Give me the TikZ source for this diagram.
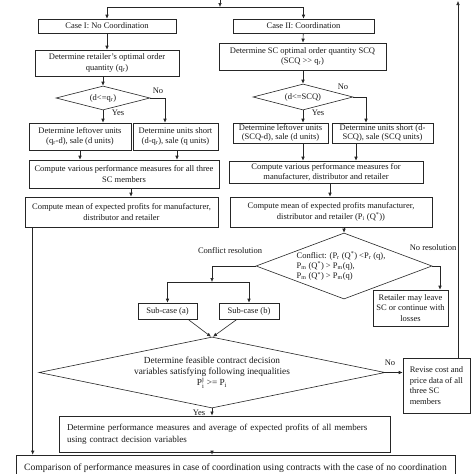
\documentclass[tikz,border=0pt]{standalone}
\usepackage{fontspec}
\setmainfont{Liberation Serif}
\usetikzlibrary{shapes.geometric,arrows.meta,calc}
\newcommand\fs{\fontsize{8.5}{10.4}\selectfont}
\newcommand\fst{\fontsize{8.5}{9.6}\selectfont}
\newcommand\fsd{\fontsize{9.3}{11}\selectfont}
\newcommand\fsp{\fontsize{9}{12}\selectfont}
\newcommand\fsc{\fontsize{9.6}{11}\selectfont}
\newcommand\sub[1]{\textsubscript{#1}}
\newcommand\sups[1]{\textsuperscript{#1}}
\begin{document}
\begin{tikzpicture}[x=1pt,y=-1pt,
  box/.style={draw=black!85, line width=0.6pt, inner sep=1pt, align=center, font=\fs, text=black!90},
  dia/.style={draw=black!85, line width=0.6pt, diamond, inner sep=0pt},
  txt/.style={font=\fs, text=black!90, inner sep=0pt},
  arr/.style={-{Latex[length=4pt,width=3.6pt]}, line width=0.6pt, draw=black!85},
  ln/.style={line width=0.6pt, draw=black!85}]
\useasboundingbox (0,0) rectangle (474,474);
\clip (0,0) rectangle (474,474);
\fill[white] (0,0) rectangle (474,474);

% top
\coordinate (topin) at (220,0);
\coordinate (split) at (220,7);
\coordinate (back) at (458,1);

\node[box, minimum width=138pt, minimum height=14pt] (case1) at (107,26) {Case I: No Coordination};
\node[box, minimum width=141pt, minimum height=14pt] (case2) at (303.5,26) {Case II: Coordination};
\node[box, minimum width=144pt, minimum height=26pt] (ret1) at (107,63) {Determine retailer's optimal order\\quantity (q\sub{r})};
\node[box, minimum width=167pt, minimum height=27pt] (sc2) at (302.5,56.5) {Determine SC optimal order quantity SCQ\\(SCQ >{}> q\sub{r})};

\node[dia, minimum width=94pt, minimum height=24pt] (d1) at (103,98) {};
\node[txt] at (d1.center) {(d<=q\sub{r})};
\node[dia, minimum width=100pt, minimum height=26pt] (d2) at (303,97) {};
\node[txt] at (d2.center) {(d<=SCQ)};

\node[box, minimum width=102pt, minimum height=27pt] (left1) at (80,136.5) {Determine leftover units\\(q\sub{r}-d), sale (d units)};
\node[box, minimum width=85pt, minimum height=27pt] (short1) at (175.5,136.5) {Determine units short\\(d-q\sub{r}), sale (q units)};
\node[box, font=\fst, inner sep=0pt, minimum width=95pt, minimum height=20pt] (left2) at (280.5,133) {Determine leftover units\\(SCQ-d), sale (d units)};
\node[box, font=\fst, inner sep=0pt, minimum width=101pt, minimum height=20pt] (short2) at (382.5,133) {Determine units short (d-\\SCQ), sale (SCQ units)};

\node[box, minimum width=190pt, minimum height=28pt] (comp1) at (124,174) {Compute various performance measures for all three\\SC members};
\node[box, font=\fst, inner sep=0pt, minimum width=194pt, minimum height=22pt] (comp2) at (326,172) {Compute various performance measures for\\manufacturer, distributor and retailer};
\node[box, minimum width=193pt, minimum height=30pt] (mean1) at (121.5,212) {Compute mean of expected profits for manufacturer,\\distributor and retailer};
\node[box, minimum width=202pt, minimum height=30pt] (mean2) at (331,212) {Compute mean of expected profits manufacturer,\\distributor and retailer (P\sub{i} (Q\sups{*}))};

\node[dia, minimum width=176pt, minimum height=66pt] (conf) at (344,266) {};
\node[txt, align=left] at (341,266) {Conflict: (P\sub{r} (Q\sups{*}) <P\sub{r} (q),\\P\sub{m} (Q\sups{*}) > P\sub{m}(q),\\P\sub{m} (Q\sups{*}) > P\sub{m}(q)};
\node[box, minimum width=75pt, minimum height=36pt] (retl) at (410.5,308) {Retailer may leave\\SC or continue with\\losses};

\coordinate (cr) at (212,282);
\node[box, minimum width=59pt, minimum height=16pt] (subA) at (167.5,311) {Sub-case (a)};
\node[box, minimum width=60pt, minimum height=16pt] (subB) at (249,311) {Sub-case (b)};

\node[dia, minimum width=346pt, minimum height=71pt] (big) at (212,372.5) {};
\node[txt, font=\fsd, align=center] at (212,373) {Determine feasible contract decision\\variables satisfying following inequalities\\$\mathrm{P}^{\mathrm{j}}_{\mathrm{i}}$ >= P\sub{i}};
\node[box, align=left, minimum width=67pt, minimum height=55pt] (rev) at (436.5,385.5) {Revise cost and\\price data of all\\three SC\\members};

\node[box, font=\fsp, align=left, text width=315pt, inner sep=8pt, minimum height=28pt] (perf) at (224.5,434) {Determine performance measures and average of expected profits of all members\\using contract decision variables};
\node[box, font=\fsc, minimum width=439pt, minimum height=26pt] (cmp) at (235.5,468) {Comparison of performance measures in case of coordination using contracts with the case of no coordination};

% labels
\node[txt] at (158,91) {No};
\node[txt] at (118,113) {Yes};
\node[txt] at (343,87) {No};
\node[txt] at (318,113) {Yes};
\node[txt] at (230,251) {Conflict resolution};
\node[txt] at (433,248) {No resolution};
\node[txt] at (390,363) {No};
\node[txt] at (199,413) {Yes};

% connectors
\draw[arr] (topin) -- (split);
\draw[ln] (case1.north |- split) -- (case2.north |- split);
\draw[arr] (case1.north |- split) -- (case1.north);
\draw[arr] (case2.north |- split) -- (case2.north);
\draw[arr] (case1) -- (ret1);
\draw[arr] (case2) -- (sc2);
\draw[arr] (d1.north |- ret1.south) -- (d1.north);
\draw[arr] (d2.north |- sc2.south) -- (d2.north);
\draw[arr] (d1.south) -- (d1.south |- left1.north);
\draw[arr] (d1.east) -| ([xshift=-10.5pt]short1.north);
\draw[arr] (d2.south) -- (d2.south |- left2.north);
\draw[arr] (d2.east) -| ([xshift=-16.5pt]short2.north);
\draw[arr] (left1.south) -- (left1.south |- comp1.north);
\draw[arr] ([xshift=1.5pt]short1.south) -- ([xshift=1.5pt]short1.south |- comp1.north);
\draw[arr] ([xshift=22.5pt]left2.south) -- ([xshift=22.5pt]left2.south |- comp2.north);
\draw[arr] ([xshift=-26.5pt]short2.south) -- ([xshift=-26.5pt]short2.south |- comp2.north);
\draw[arr] ([xshift=7pt]comp1.south) -- ([xshift=7pt]comp1.south |- mean1.north);
\draw[arr] ([xshift=4pt]comp2.south) -- ([xshift=4pt]comp2.south |- mean2.north);
\draw[arr] (conf.north |- mean2.south) -- (conf.north);
\draw[arr] ([xshift=8pt]mean1.south west) -- ([xshift=8pt]mean1.south west |- cmp.north);
\draw[arr] (conf.west) -| (cr);
\draw[arr] (cr -| subA.north) -- (subA.north);
\draw[arr] (cr -| subB.north) -- (subB.north);
\draw[ln] (cr -| subA.north) -- (cr -| subB.north);
\draw[arr] (conf.east) -| ([xshift=29.5pt]retl.north);
\draw[arr] ([xshift=20.5pt]subA.south) -- ([xshift=-1pt]big.north);
\draw[arr] ([xshift=-12pt]subB.south) -- ([xshift=1pt]big.north);
\draw[arr] (big.east) -- (big.east -| rev.west);
\draw[arr] (back |- rev.north) -- (back);
\draw[arr] (big.south) -- (big.south |- perf.north);
\draw[arr] (big.south |- perf.south) -- (big.south |- cmp.north);
\end{tikzpicture}
\end{document}
